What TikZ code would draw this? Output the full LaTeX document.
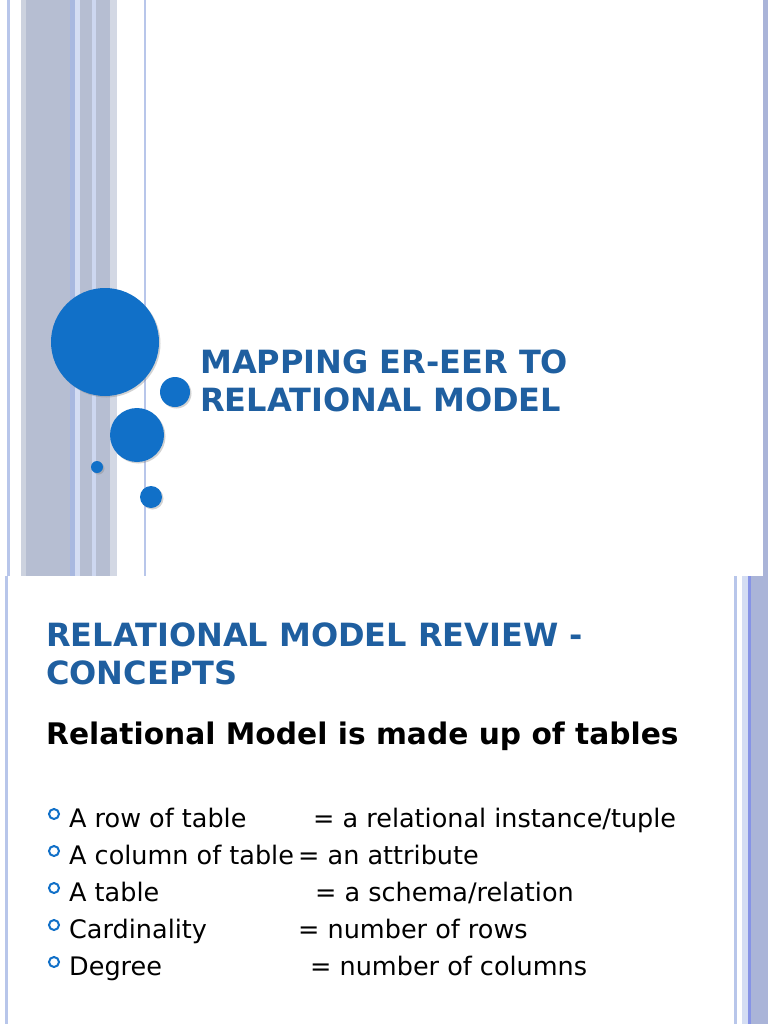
\documentclass[tikz,border=0pt]{standalone}
\usepackage{fontspec}
\setmainfont{DejaVu Sans}
\usetikzlibrary{shadows}
\definecolor{dot}{HTML}{1170C8}
\definecolor{ttl}{HTML}{1F5FA0}
\definecolor{lb}{HTML}{B8C6EA}
\definecolor{gb}{HTML}{B6BED2}
\definecolor{mb}{HTML}{A8B8E0}
\definecolor{rb}{HTML}{AAB4D8}
\tikzset{ball/.style={circle,fill=dot,inner sep=0pt,drop shadow={shadow xshift=1.5pt,shadow yshift=-1.5pt,opacity=0.35}},
 ttlt/.style={anchor=base west,font=\bfseries\fontsize{32}{32}\selectfont,text=ttl,inner sep=0pt},
 itm/.style={anchor=base west,font=\fontsize{25.5}{26}\selectfont,inner sep=0pt},
 bul/.style={circle,draw=dot,line width=2pt,inner sep=0pt,minimum size=10pt}}
\begin{document}
\begin{tikzpicture}[x=1pt,y=-1pt]
\useasboundingbox (0,0) rectangle (768,1024);
\fill[white] (0,0) rectangle (768,1024);
% top slide stripes
\fill[lb] (7,0) rectangle (10,576);
\fill[gb!70] (21,0) rectangle (26,576);
\fill[gb] (26,0) rectangle (70,576);
\fill[mb] (70,0) rectangle (75,576);
\fill[lb!60] (75,0) rectangle (80,576);
\fill[gb] (80,0) rectangle (92,576);
\fill[lb!70] (92,0) rectangle (96,576);
\fill[gb] (96,0) rectangle (110,576);
\fill[gb!60] (110,0) rectangle (117,576);
\fill[lb] (144,0) rectangle (146,576);
\fill[rb] (763,0) rectangle (768,576);
% circles
\node[ball,minimum size=108pt] (c1) at (105,342) {};
\node[ball,minimum size=30pt] (c2) at (175,392) {};
\node[ball,minimum size=54pt] (c3) at (137,435) {};
\node[ball,minimum size=12pt] (c4) at (97,467) {};
\node[ball,minimum size=22pt] (c5) at (151,497) {};
\node[ttlt] (t1) at (200,373) {MAPPING ER-EER TO};
\node[ttlt] (t2) at (200,411) {RELATIONAL MODEL};
% bottom slide stripes
\fill[lb] (5,576) rectangle (8,1024);
\fill[lb] (734,576) rectangle (737,1024);
\fill[lb!60] (742,576) rectangle (748,1024);
\fill[mb!80!blue] (748,576) rectangle (751,1024);
\fill[rb] (751,576) rectangle (768,1024);
\node[ttlt] (h1) at (46,646) {RELATIONAL MODEL REVIEW -};
\node[ttlt] (h2) at (46,684) {CONCEPTS};
\node[anchor=base west,inner sep=0pt,font=\bfseries\fontsize{29.7}{30}\selectfont] (sub) at (46,744) {Relational Model is made up of tables};
\foreach \y/\a/\ex/\b [count=\i] in {827/A row of table/313/= a relational instance\slash tuple,
 864/A column of table/298/= an attribute,
 901/A table/315/= a schema\slash relation,
 938/Cardinality/298/= number of rows,
 975/Degree/310/= number of columns}{
 \node[bul] (b\i) at (54,\y-13) {};
 \node[itm] (l\i) at (69,\y) {\a};
 \node[itm] (r\i) at (\ex,\y) {\b};
}
\end{tikzpicture}
\end{document}
